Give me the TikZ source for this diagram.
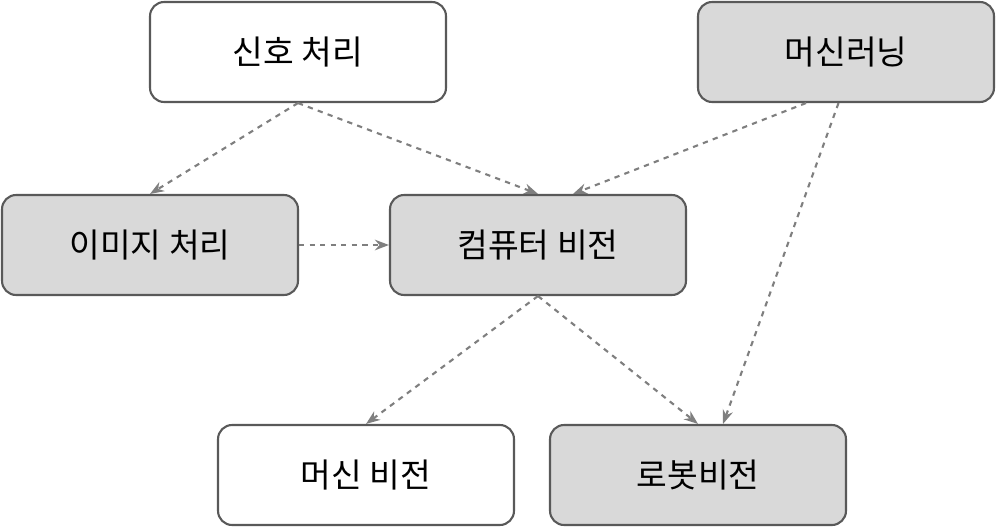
\documentclass[tikz,border=0pt]{standalone}
\usepackage{fontspec}
\setmainfont{Noto Sans CJK KR}
\usetikzlibrary{arrows.meta}
\definecolor{boxgray}{HTML}{D9D9D9}
\definecolor{edgegray}{HTML}{595959}
\definecolor{arrgray}{HTML}{7F7F7F}
\tikzset{
  topic/.style={draw=edgegray, line width=1.2pt, rounded corners=8pt, minimum width=5.92cm, minimum height=2cm, font=\fontsize{19}{22}\selectfont, fill=white},
  grayed/.style={topic, fill=boxgray},
  link/.style={draw=arrgray, line width=1.2pt, dashed, -{Stealth[length=8pt,width=6pt]}}
}
\begin{document}
\begin{tikzpicture}[x=0.02cm, y=-0.02cm]
  \useasboundingbox (0,0) rectangle (996,527);
  \node[topic]  (signal)   at (298,52)  {신호 처리};
  \node[grayed] (ml)       at (846,52)  {머신러닝};
  \node[grayed] (image)    at (150,245) {이미지 처리};
  \node[grayed] (cv)       at (538,245) {컴퓨터 비전};
  \node[topic]  (machine)  at (366,475) {머신 비전};
  \node[grayed] (robot)    at (698,475) {로봇비전};
  % connectors
  \draw[link] (signal.south) -- (image.north);
  \draw[link] (signal.south) -- (cv.north);
  \draw[link] ([xshift=-0.8cm]ml.south) -- ([xshift=0.7cm]cv.north);
  \draw[link] ([xshift=-0.15cm]ml.south) -- ([xshift=0.5cm]robot.north);
  \draw[link] (image.east) -- (cv.west);
  \draw[link] (cv.south) -- (machine.north);
  \draw[link] (cv.south) -- (robot.north);
\end{tikzpicture}
\end{document}
